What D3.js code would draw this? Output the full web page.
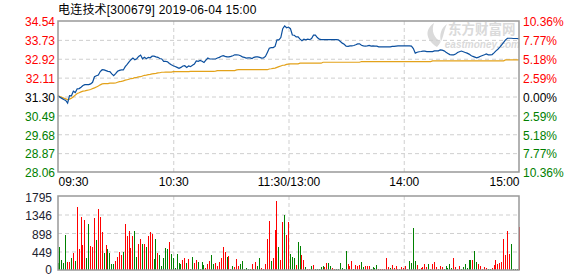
<!DOCTYPE html>
<html>
<head>
<meta charset="utf-8">
<script src="https://cdn.jsdelivr.net/npm/d3@7"></script>
<style>
  body { margin: 0; background: #fff; }
  svg { display: block; font-family: "Liberation Sans", Arial, "Noto Sans CJK SC", sans-serif; font-size: 12px; }
  .grid line { stroke: #cfcfcf; stroke-dasharray: 4,3; }
  .frame { fill: none; stroke: #999; stroke-width: 1.5; }
  .watermark { fill: #dadada; }
</style>
</head>
<body>
<svg id="chart"></svg>
<script>
// --- data ---
const title = '电连技术[300679] 2019-06-04 15:00';
const preClose = 31.30;
const priceTicks = [34.54, 33.73, 32.92, 32.11, 31.30, 30.49, 29.68, 28.87, 28.06];
const pctTicks = ['10.36%', '7.77%', '5.18%', '2.59%', '0.00%', '2.59%', '5.18%', '7.77%', '10.36%'];
const volumeTicks = [0, 449, 898, 1346, 1795];
const timeLabels = ['09:30', '10:30', '11:30/13:00', '14:00', '15:00'];
const timeTickIndex = [0, 60, 120, 180, 240];

// one value per minute, 09:30 .. 11:30 then 13:01 .. 15:00
const prices = [
  31.33, 31.27, 31.22, 31.17, 31.13, 31.02, 31.34, 31.33, 31.53, 31.47,
  31.63, 31.64, 31.70, 31.77, 31.81, 31.81, 31.81, 31.84, 31.91, 32.15,
  32.19, 32.22, 32.37, 32.45, 32.44, 32.41, 32.38, 32.37, 32.27, 32.19,
  32.28, 32.38, 32.42, 32.44, 32.44, 32.58, 32.68, 32.79, 32.88, 32.95,
  32.88, 32.92, 33.02, 33.08, 32.92, 32.98, 32.92, 32.98, 32.96, 33.03,
  33.03, 33.00, 32.98, 32.93, 32.91, 32.81, 32.81, 32.79, 32.72, 32.66,
  32.62, 32.59, 32.55, 32.51, 32.55, 32.61, 32.62, 32.55, 32.61, 32.58,
  32.64, 32.69, 32.83, 32.81, 32.85, 32.81, 32.76, 32.86, 32.95, 32.91,
  32.91, 32.91, 32.91, 32.95, 32.98, 33.03, 33.05, 33.02, 33.00, 33.00,
  33.02, 33.05, 33.09, 33.09, 33.08, 33.05, 33.00, 32.98, 32.95, 32.96,
  32.96, 32.93, 32.98, 33.00, 33.00, 32.98, 32.95, 32.96, 33.02, 33.19,
  33.37, 33.40, 33.40, 33.45, 33.73, 33.73, 33.83, 34.21, 34.33, 34.25,
  34.28,
  34.21, 33.94, 33.93, 33.86, 33.86, 33.76, 33.69, 33.76, 33.73, 33.76,
  33.74, 33.79, 33.93, 33.93, 33.83, 33.76, 33.74, 33.74, 33.74, 33.74,
  33.74, 33.74, 33.74, 33.74, 33.74, 33.73, 33.66, 33.59, 33.54, 33.46,
  33.45, 33.47, 33.47, 33.49, 33.52, 33.56, 33.56, 33.50, 33.47, 33.46,
  33.47, 33.49, 33.46, 33.47, 33.46, 33.46, 33.43, 33.43, 33.43, 33.43,
  33.43, 33.43, 33.43, 33.45, 33.45, 33.46, 33.47, 33.47, 33.47, 33.47,
  33.47, 33.47, 33.47, 33.46, 33.36, 33.16, 33.20, 33.22, 33.23, 33.25,
  33.25, 33.23, 33.23, 33.23, 33.23, 33.26, 33.26, 33.26, 33.30, 33.29,
  33.26, 33.20, 33.15, 33.10, 33.09, 33.09, 33.12, 33.19, 33.22, 33.25,
  33.22, 33.19, 33.16, 33.12, 33.06, 33.02, 32.99, 32.96, 32.99, 33.03,
  33.06, 33.09, 33.13, 33.09, 33.09, 33.10, 33.17, 33.26, 33.33, 33.42,
  33.52, 33.62, 33.73, 33.80, 33.80, 33.80, 33.79, 33.79, 33.79, 33.77
];

const avgPrices = [
  31.33, 31.30, 31.27, 31.23, 31.20, 31.17, 31.19, 31.23, 31.29, 31.36,
  31.43, 31.46, 31.50, 31.53, 31.54, 31.56, 31.58, 31.60, 31.64, 31.67,
  31.71, 31.75, 31.80, 31.84, 31.85, 31.85, 31.85, 31.87, 31.87, 31.87,
  31.88, 31.91, 31.94, 31.95, 31.97, 32.00, 32.02, 32.04, 32.07, 32.08,
  32.11, 32.12, 32.14, 32.15, 32.18, 32.21, 32.22, 32.24, 32.25, 32.27,
  32.28, 32.29, 32.31, 32.32, 32.34, 32.34, 32.35, 32.35, 32.35, 32.35,
  32.37, 32.37, 32.37, 32.37, 32.37, 32.37, 32.37, 32.37, 32.37, 32.38,
  32.38, 32.38, 32.38, 32.38, 32.38, 32.38, 32.38, 32.38, 32.38, 32.38,
  32.38, 32.38, 32.39, 32.41, 32.41, 32.41, 32.41, 32.41, 32.41, 32.41,
  32.41, 32.41, 32.41, 32.44, 32.45, 32.45, 32.45, 32.45, 32.45, 32.45,
  32.45, 32.45, 32.45, 32.45, 32.45, 32.45, 32.45, 32.45, 32.45, 32.45,
  32.48, 32.49, 32.51, 32.52, 32.55, 32.58, 32.61, 32.64, 32.65, 32.68,
  32.69,
  32.70, 32.70, 32.70, 32.70, 32.70, 32.73, 32.73, 32.73, 32.73, 32.73,
  32.73, 32.73, 32.73, 32.73, 32.73, 32.73, 32.73, 32.77, 32.77, 32.77,
  32.77, 32.77, 32.77, 32.77, 32.77, 32.77, 32.77, 32.77, 32.77, 32.77,
  32.77, 32.77, 32.77, 32.77, 32.77, 32.77, 32.77, 32.80, 32.80, 32.80,
  32.80, 32.80, 32.80, 32.80, 32.80, 32.80, 32.80, 32.80, 32.80, 32.80,
  32.80, 32.80, 32.80, 32.80, 32.80, 32.80, 32.80, 32.80, 32.80, 32.80,
  32.80, 32.80, 32.80, 32.80, 32.80, 32.80, 32.80, 32.80, 32.80, 32.80,
  32.80, 32.80, 32.80, 32.80, 32.83, 32.83, 32.83, 32.83, 32.83, 32.83,
  32.83, 32.83, 32.83, 32.83, 32.83, 32.83, 32.83, 32.83, 32.83, 32.83,
  32.83, 32.83, 32.83, 32.83, 32.83, 32.83, 32.83, 32.83, 32.83, 32.83,
  32.83, 32.83, 32.83, 32.83, 32.83, 32.83, 32.83, 32.83, 32.83, 32.83,
  32.83, 32.83, 32.87, 32.87, 32.87, 32.87, 32.87, 32.87, 32.87, 32.87
];

const volumes = [
  180, 555, 237, 163, 849, 188, 188, 286, 408, 212,
  1534, 506, 1289, 604, 1216, 286, 1118, 579, 555, 1265,
  726, 1485, 1289, 922, 408, 604, 506, 408, 139, 139,
  212, 310, 432, 375, 432, 1118, 824, 947, 530, 824,
  947, 310, 628, 751, 628, 628, 555, 824, 922, 873,
  261, 751, 408, 359, 90, 286, 530, 506, 677, 384,
  286, 49, 384, 163, 139, 253, 286, 163, 261, 16,
  310, 163, 237, 188, 16, 188, 114, 41, 139, 212,
  359, 139, 163, 90, 188, 286, 555, 432, 310, 335,
  16, 90, 65, 261, 90, 139, 212, 16, 41, 16,
  16, 139, 16, 188, 90, 286, 41, 16, 139, 742,
  1191, 212, 286, 971, 1665, 555, 237, 1167, 1338, 849,
  1167,
  384, 310, 286, 114, 677, 579, 359, 237, 65, 16,
  16, 90, 114, 16, 16, 16, 65, 90, 65, 163,
  163, 90, 41, 16, 16, 16, 163, 41, 16, 457,
  139, 90, 212, 16, 114, 90, 114, 188, 65, 90,
  90, 90, 16, 65, 41, 114, 16, 16, 16, 16,
  286, 65, 41, 114, 41, 90, 16, 16, 65, 41,
  90, 16, 212, 163, 1020, 212, 114, 16, 41, 65,
  139, 65, 139, 16, 139, 188, 65, 16, 90, 65,
  16, 90, 41, 139, 41, 286, 65, 16, 90, 16,
  65, 139, 41, 237, 237, 237, 457, 188, 139, 90,
  16, 65, 41, 16, 16, 41, 114, 237, 139, 163,
  188, 751, 359, 947, 384, 628, 16, 0, 0, 1044
];

// 1 = price up that minute (red bar), 0 = down (green bar)
const volumeUp = [
  0, 0, 0, 0, 0, 1, 1, 0, 1, 0,
  1, 1, 1, 1, 1, 0, 0, 1, 1, 1,
  0, 1, 1, 1, 0, 1, 0, 0, 0, 0,
  1, 1, 1, 1, 0, 1, 1, 1, 1, 1,
  0, 0, 1, 1, 0, 1, 0, 1, 1, 1,
  0, 0, 1, 0, 0, 0, 0, 0, 1, 0,
  0, 0, 0, 0, 0, 1, 1, 0, 1, 1,
  0, 1, 1, 0, 0, 0, 0, 1, 1, 1,
  0, 0, 1, 1, 1, 1, 1, 1, 0, 1,
  1, 0, 1, 1, 1, 0, 0, 0, 0, 0,
  0, 1, 0, 1, 0, 0, 1, 1, 1, 1,
  1, 0, 1, 1, 1, 0, 1, 1, 0, 1,
  1,
  0, 0, 0, 1, 0, 0, 1, 1, 0, 1,
  1, 0, 1, 0, 0, 0, 0, 0, 1, 1,
  0, 0, 1, 1, 0, 0, 0, 0, 0, 0,
  1, 1, 1, 0, 1, 1, 1, 0, 0, 1,
  1, 1, 0, 0, 0, 0, 1, 1, 1, 1,
  1, 1, 0, 1, 1, 1, 1, 1, 1, 1,
  1, 1, 0, 0, 0, 0, 1, 1, 1, 1,
  1, 1, 0, 1, 1, 1, 1, 1, 1, 1,
  0, 0, 0, 0, 0, 1, 1, 1, 1, 0,
  0, 0, 0, 0, 0, 1, 0, 0, 1, 1,
  1, 1, 1, 0, 0, 1, 1, 1, 1, 1,
  1, 1, 1, 1, 1, 0, 0, 0, 0, 1
];

// --- layout ---
const width = 578, height = 276;
const plot = {left: 58, right: 519};
const pricePanel = {top: 21, bottom: 172};
const volPanel = {top: 196, bottom: 270};
const red = '#ff0000', green = '#008000';

const svg = d3.select('#chart')
    .attr('width', width)
    .attr('height', height);

const xScale = d3.scaleLinear()
    .domain([0, prices.length - 1])
    .range([plot.left, plot.right]);

const yPrice = d3.scaleLinear()
    .domain([d3.min(priceTicks), d3.max(priceTicks)])
    .range([pricePanel.bottom, pricePanel.top]);

const yVol = d3.scaleLinear()
    .domain([0, d3.max(volumeTicks)])
    .range([volPanel.bottom, volPanel.top]);

const tickColor = d => d > preClose ? red : (d < preClose ? green : '#000');

// watermark sits behind everything
const wm = svg.append('g').attr('class', 'watermark');
wm.append('path')
    .attr('d', 'M437,47 C426,40 424,30 434,23 C431,31 434,38 441,42 C439,35 441,28 447,24 C443,32 444,40 437,47 Z');
wm.append('text')
    .attr('x', 448).attr('y', 34)
    .style('font-size', '13.5px').style('font-weight', 'bold')
    .style('font-family', '"Noto Sans CJK SC", sans-serif')
    .text('东方财富网');
wm.append('text')
    .attr('x', 520).attr('y', 47.5)
    .attr('text-anchor', 'end')
    .style('font-size', '10px').style('font-weight', 'bold').style('font-style', 'italic')
    .text('eastmoney.com');

// title
svg.append('text')
    .attr('x', plot.left)
    .attr('y', 14)
    .attr('fill', '#000')
    .style('letter-spacing', '0.2px')
    .style('font-family', '"Liberation Sans", "Noto Sans CJK SC", sans-serif')
    .text(title);

// gridlines
const panelW = plot.right - plot.left;

svg.append('g')
    .attr('class', 'grid')
    .attr('transform', `translate(${plot.left},0)`)
    .call(d3.axisLeft(yPrice).tickValues(priceTicks.slice(1, -1)).tickSize(-panelW).tickFormat(''))
    .call(g => g.select('.domain').remove());

svg.append('g')
    .attr('class', 'grid')
    .attr('transform', `translate(0,${pricePanel.bottom})`)
    .call(d3.axisBottom(xScale).tickValues(timeTickIndex.slice(1, -1))
      .tickSize(-(pricePanel.bottom - pricePanel.top)).tickFormat(''))
    .call(g => g.select('.domain').remove());

svg.append('g')
    .attr('class', 'grid')
    .attr('transform', `translate(${plot.left},0)`)
    .call(d3.axisLeft(yVol).tickValues(volumeTicks.slice(1, -1)).tickSize(-panelW).tickFormat(''))
    .call(g => g.select('.domain').remove());

svg.append('g')
    .attr('class', 'grid')
    .attr('transform', `translate(0,${volPanel.bottom})`)
    .call(d3.axisBottom(xScale).tickValues(timeTickIndex.slice(1, -1))
      .tickSize(-(volPanel.bottom - volPanel.top)).tickFormat(''))
    .call(g => g.select('.domain').remove());

// volume bars
svg.append('g')
    .selectAll('rect')
    .data(volumes)
  .join('rect')
    .attr('x', (d, i) => Math.floor(xScale(i)))
    .attr('width', 1)
    .attr('y', d => Math.min(yVol(d), volPanel.bottom - 1))
    .attr('height', d => Math.max(1, volPanel.bottom - yVol(d)))
    .attr('fill', (d, i) => volumeUp[i] ? red : green)
    .attr('shape-rendering', 'crispEdges');

// average price and price lines
const line = d3.line()
    .x((d, i) => xScale(i))
    .y(d => yPrice(d));

svg.append('path')
    .datum(avgPrices)
    .attr('fill', 'none')
    .attr('stroke', '#e3a21a')
    .attr('stroke-width', 1.2)
    .attr('d', line);

svg.append('path')
    .datum(prices)
    .attr('fill', 'none')
    .attr('stroke', '#0b4f9e')
    .attr('stroke-width', 1.2)
    .attr('d', line);

// frames
svg.append('rect')
    .attr('class', 'frame')
    .attr('x', plot.left).attr('y', pricePanel.top)
    .attr('width', panelW).attr('height', pricePanel.bottom - pricePanel.top);

svg.append('rect')
    .attr('class', 'frame')
    .attr('x', plot.left).attr('y', volPanel.top)
    .attr('width', panelW).attr('height', volPanel.bottom - volPanel.top);

// axes labels
svg.append('g')
    .attr('transform', `translate(${plot.left},0)`)
    .call(d3.axisLeft(yPrice).tickValues(priceTicks).tickSize(0).tickPadding(3)
      .tickFormat(d3.format('.2f')))
    .call(g => g.select('.domain').remove())
    .call(g => g.selectAll('text')
      .attr('dy', '0.4em')
      .attr('fill', d => tickColor(d))
      .style('font-size', '12px').style('font-family', '"Liberation Sans", Arial'));

svg.append('g')
    .attr('transform', `translate(${plot.right},0)`)
    .call(d3.axisRight(yPrice).tickValues(priceTicks).tickSize(0).tickPadding(4)
      .tickFormat((d, i) => pctTicks[i]))
    .call(g => g.select('.domain').remove())
    .call(g => g.selectAll('text')
      .attr('dy', '0.4em')
      .attr('fill', d => tickColor(d))
      .style('font-size', '12px').style('font-family', '"Liberation Sans", Arial'));

svg.append('g')
    .attr('transform', `translate(${plot.left},0)`)
    .call(d3.axisLeft(yVol).tickValues(volumeTicks).tickSize(0).tickPadding(6)
      .tickFormat(d3.format('d')))
    .call(g => g.select('.domain').remove())
    .call(g => g.selectAll('text')
      .attr('dy', d => d === 0 ? '0.3em' : '0.45em')
      .attr('fill', '#1c2230')
      .style('font-size', '12px').style('font-family', '"Liberation Sans", Arial'));

svg.append('g')
    .attr('transform', `translate(0,${pricePanel.bottom})`)
    .call(d3.axisBottom(xScale).tickValues(timeTickIndex).tickSize(0).tickPadding(5)
      .tickFormat((d, i) => timeLabels[i]))
    .call(g => g.select('.domain').remove())
    .call(g => g.selectAll('text')
      .attr('fill', '#000')
      .style('font-size', '12px').style('font-family', '"Liberation Sans", Arial')
      .attr('text-anchor', (d, i) => i === 0 ? 'start' : (i === timeLabels.length - 1 ? 'end' : 'middle')));
</script>
</body>
</html>
